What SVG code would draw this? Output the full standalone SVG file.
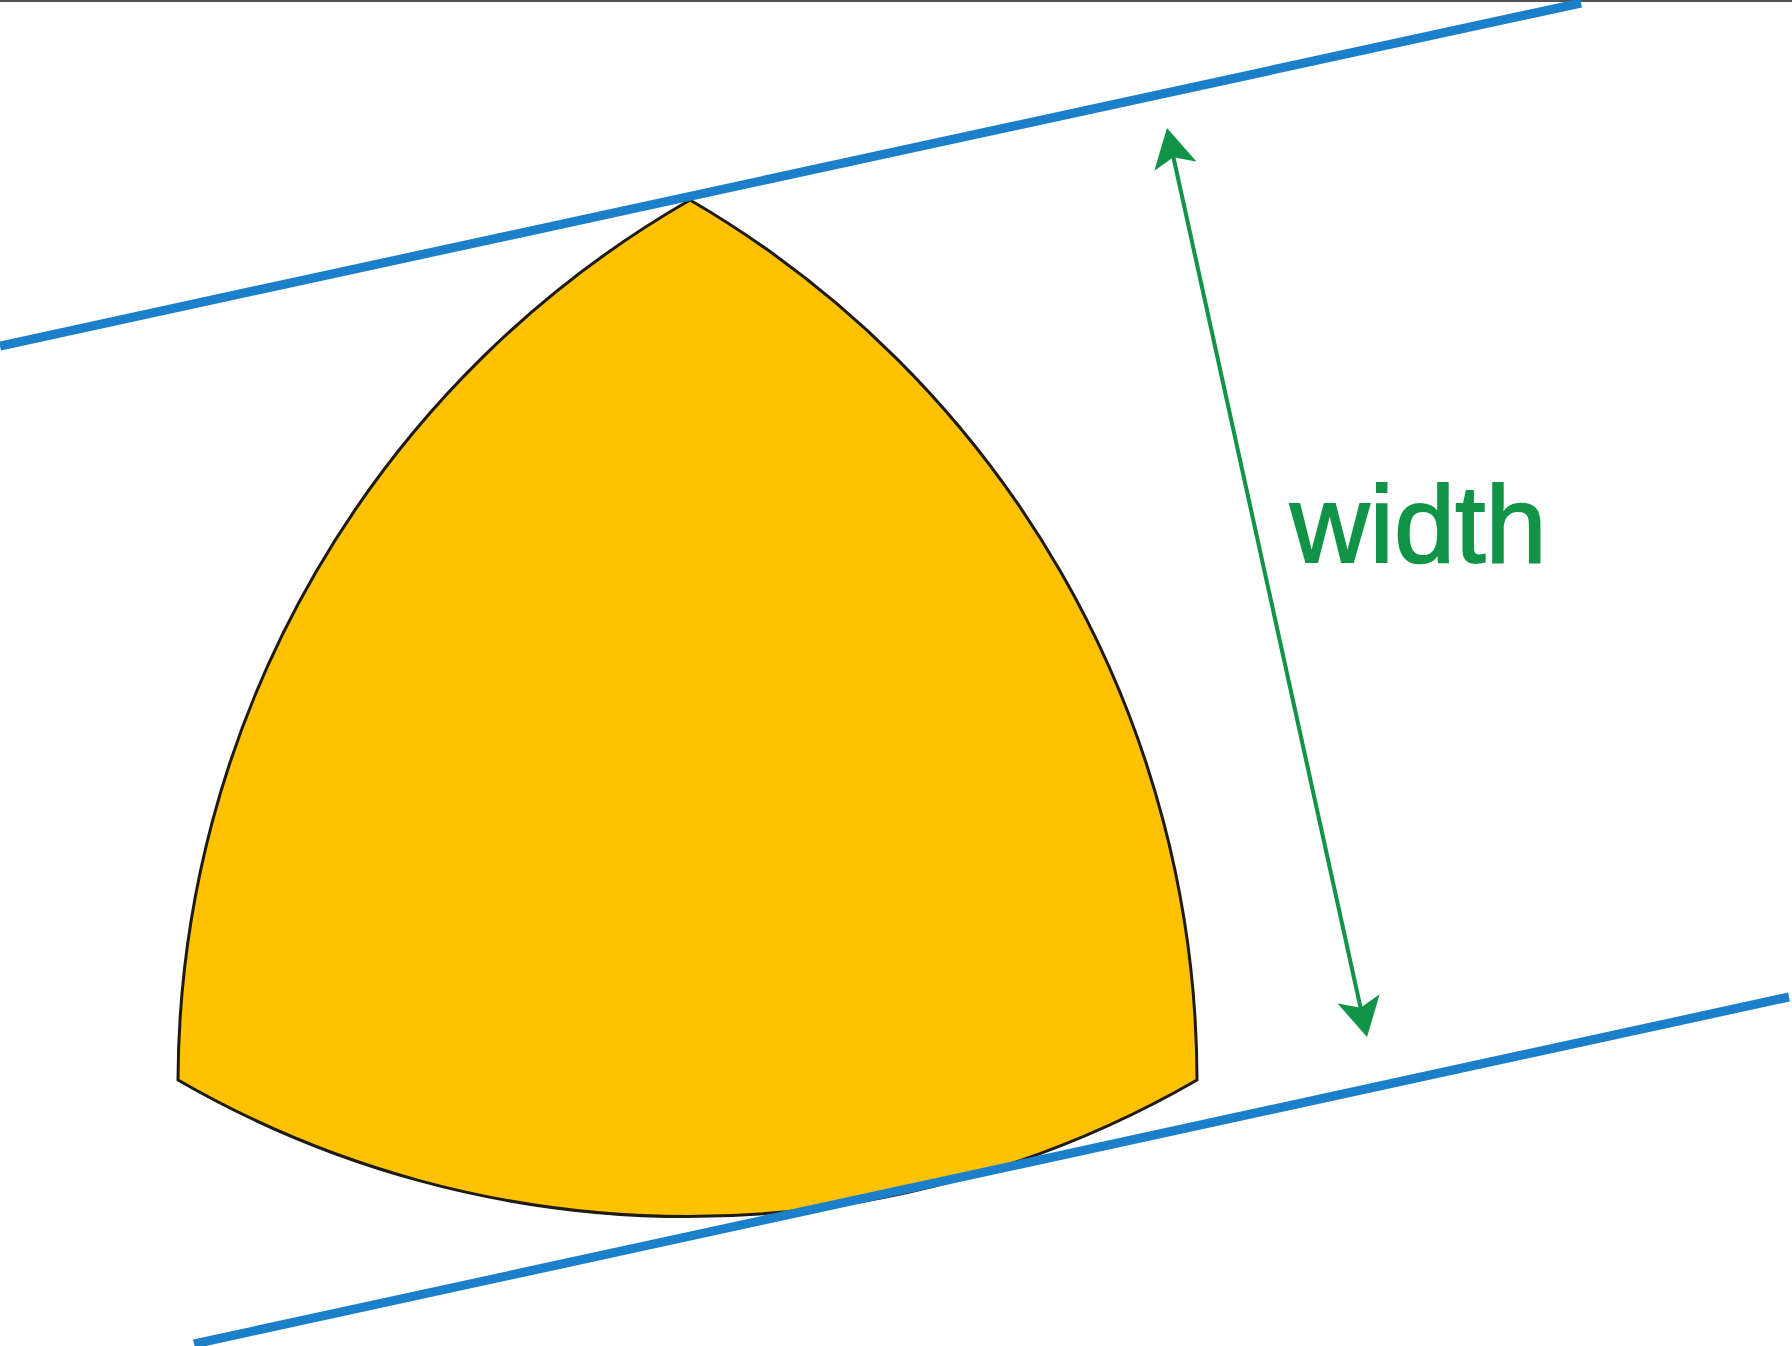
<svg xmlns="http://www.w3.org/2000/svg" width="1792" height="1346" viewBox="0 0 1792 1346">
  <style>
    .tangent { stroke: #1b7fca; stroke-width: 9; fill: none; }
    .dim { stroke: #119447; stroke-width: 4; fill: none; }
    .label { font-family: "Liberation Sans", Arial, sans-serif; font-size: 110px; fill: #119447; stroke: #119447; stroke-width: 1.8; }
  </style>
  <defs>
    <marker id="head" markerUnits="userSpaceOnUse" viewBox="0 0 39 43" markerWidth="39" markerHeight="43" refX="10" refY="21.5" orient="auto-start-reverse">
      <path d="M0,0 L39,21.5 L0,43 L9,21.5 Z" fill="#119447"/>
    </marker>
  </defs>
  <rect x="0" y="0" width="1792" height="1346" fill="#ffffff"/>
  <line x1="0" y1="1" x2="1792" y2="1" stroke="#555555" stroke-width="2"/>
  <g id="reuleaux-triangle">
    <path d="M690,200 A1019,1019 0 0 0 178,1080 A1019,1019 0 0 0 1197,1080 A1019,1019 0 0 0 690,200 Z" fill="#fec200" stroke="#1e1a14" stroke-width="3" stroke-linejoin="miter"/>
  </g>
  <g id="connectors">
    <line id="top-tangent" class="tangent" x1="0" y1="346" x2="1581" y2="3"/>
    <line id="bottom-tangent" class="tangent" x1="194" y1="1344" x2="1789" y2="997"/>
    <line id="width-arrow" class="dim" x1="1173.2" y1="156.3" x2="1360.8" y2="1008.7" marker-start="url(#head)" marker-end="url(#head)"/>
  </g>
  <g id="width-label">
    <text class="label" x="1290" y="562" font-family="Liberation Sans, Arial, sans-serif">width</text>
  </g>
</svg>
